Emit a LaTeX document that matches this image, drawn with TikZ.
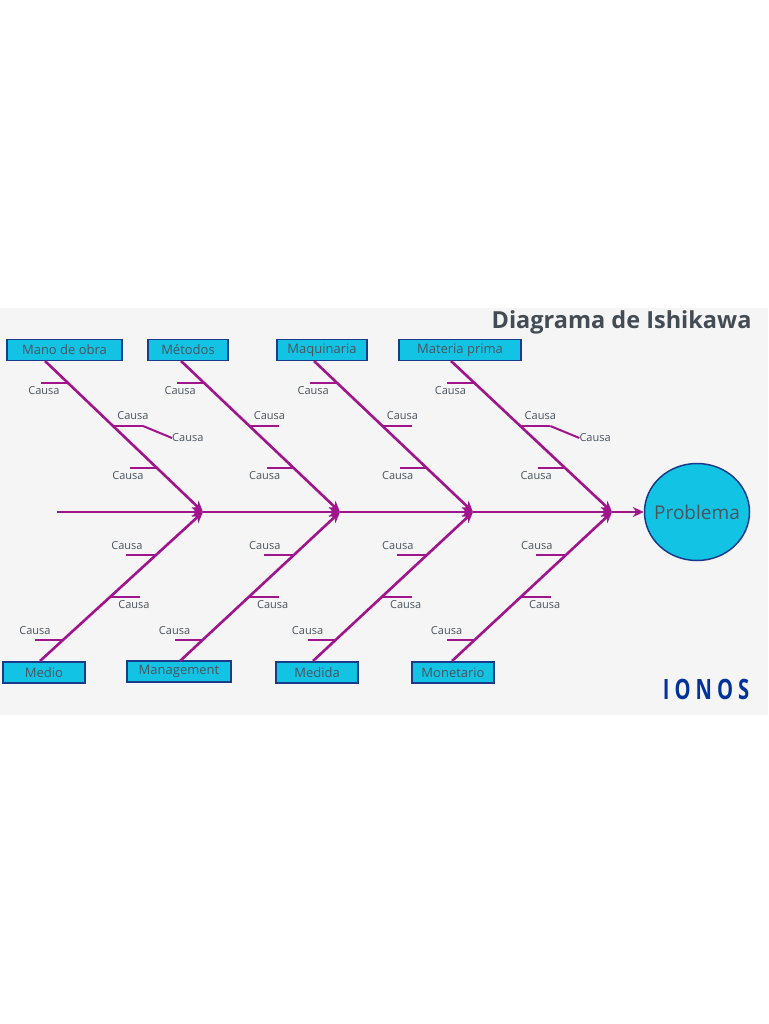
\documentclass[tikz,border=0pt]{standalone}
\usepackage{fontspec}
\setmainfont{Open Sans}
\usetikzlibrary{arrows.meta,shapes.geometric}
\definecolor{bone}{RGB}{160,20,140}
\definecolor{boxfill}{RGB}{18,195,228}
\definecolor{boxline}{RGB}{26,58,138}
\definecolor{txt}{RGB}{74,84,94}
\definecolor{bg}{RGB}{245,245,245}
\definecolor{ionos}{RGB}{0,51,153}
\tikzset{
  bonel/.style={draw=bone,line width=2.6pt},
  twig/.style={draw=bone,line width=2pt},
  cat/.style={draw=boxline,line width=1.5pt,fill=boxfill,text=txt,font=\fontsize{13}{14}\selectfont,minimum height=21pt,inner sep=0pt},
  causa/.style={text=txt,font=\fontsize{11}{12}\selectfont,inner sep=0pt},
  tip/.style={-{Stealth[length=11pt,width=10pt]}}
}
\begin{document}
\begin{tikzpicture}[x=1pt,y=-1pt]
\useasboundingbox (0,0) rectangle (768,1024);
\fill[bg] (0,308) rectangle (768,715);
\node[text=txt!90!black,font=\bfseries\fontsize{23.5}{25}\selectfont,anchor=east] (title) at (755,322) {Diagrama de Ishikawa};
\node[text=ionos,font=\bfseries\fontsize{28}{30}\selectfont,xscale=0.72] (logo) at (706,689) {I\hspace{7pt}O\hspace{7pt}N\hspace{7pt}O\hspace{7pt}S};
\node[ellipse,draw=boxline,line width=1.5pt,fill=boxfill,minimum width=105pt,minimum height=97pt,inner sep=0pt] (prob) at (697,512) {};
\node[text=txt,font=\fontsize{19}{21}\selectfont] (probtxt) at (prob.center) {Problema};
\coordinate (s0) at (57,512);
\coordinate (j1) at (203,512);
\coordinate (j2) at (340,512);
\coordinate (j3) at (473,512);
\coordinate (j4) at (612,512);
\draw[bonel,tip] (s0) -- (j1);
\draw[bonel,tip] (j1) -- (j2);
\draw[bonel,tip] (j2) -- (j3);
\draw[bonel,tip] (j3) -- (j4);
\draw[bonel,tip] (j4) -- (prob.west);
% upper bones
\foreach \i/\lab/\cx/\w/\tx/\ex/\dbl in {1/Mano de obra/64.5/115/45/203/1,2/Métodos/188/80/181/340/0,3/Maquinaria/322/90/314/473/0,4/Materia prima/460/122/451/612/1}{
  \node[cat,minimum width=\w pt] (u\i) at (\cx,350) {\lab};
  \coordinate (ut\i) at (\tx,361);
  \draw[bonel,tip] (ut\i) -- (j\i);
  \pgfmathsetmacro{\s}{(\ex-\tx)/151}
  \pgfmathsetmacro{\xa}{\tx+\s*22}
  \pgfmathsetmacro{\xb}{\tx+\s*65}
  \pgfmathsetmacro{\xc}{\tx+\s*107}
  \coordinate (ua\i) at (\xa,383); \coordinate (uae\i) at (\xa-27,383);
  \coordinate (ub\i) at (\xb,426); \coordinate (ube\i) at (\xb+30,426);
  \coordinate (uc\i) at (\xc,468); \coordinate (uce\i) at (\xc-27,468);
  \draw[twig] (ua\i) -- (uae\i);
  \draw[twig] (ub\i) -- (ube\i);
  \draw[twig] (uc\i) -- (uce\i);
  \node[causa] (la\i) at (\xa-24,391) {Causa};
  \node[causa] (lb\i) at (\xb+20,416) {Causa};
  \node[causa] (lc\i) at (\xc-29,476) {Causa};
  \ifnum\dbl=1
    \node[causa,anchor=west] (ld\i) at (\xb+59,438) {Causa};
    \draw[twig] (ube\i) -- (ld\i.west);
  \fi
}
% lower bones
\foreach \i/\lab/\cx/\cy/\w/\tx/\ex in {1/Medio/44/672.5/82/40/203,2/Management/179/671.5/104/180/340,3/Medida/317/672.5/82/313/473,4/Monetario/453/672.5/82/452/612}{
  \node[cat,minimum width=\w pt] (d\i) at (\cx,\cy) {\lab};
  \coordinate (dt\i) at (\tx,661);
  \draw[bonel,tip] (dt\i) -- (j\i);
  \pgfmathsetmacro{\s}{(\ex-\tx)/149}
  \pgfmathsetmacro{\xa}{\ex-\s*43}
  \pgfmathsetmacro{\xb}{\ex-\s*85}
  \pgfmathsetmacro{\xc}{\ex-\s*128}
  \coordinate (da\i) at (\xa,555); \coordinate (dae\i) at (\xa-30,555);
  \coordinate (db\i) at (\xb,597); \coordinate (dbe\i) at (\xb+30,597);
  \coordinate (dc\i) at (\xc,640); \coordinate (dce\i) at (\xc-28,640);
  \draw[twig] (da\i) -- (dae\i);
  \draw[twig] (db\i) -- (dbe\i);
  \draw[twig] (dc\i) -- (dce\i);
  \node[causa] (ma\i) at (\xa-29,546) {Causa};
  \node[causa] (mb\i) at (\xb+24,605) {Causa};
  \node[causa] (mc\i) at (\xc-28,631) {Causa};
}
\end{tikzpicture}
\end{document}
